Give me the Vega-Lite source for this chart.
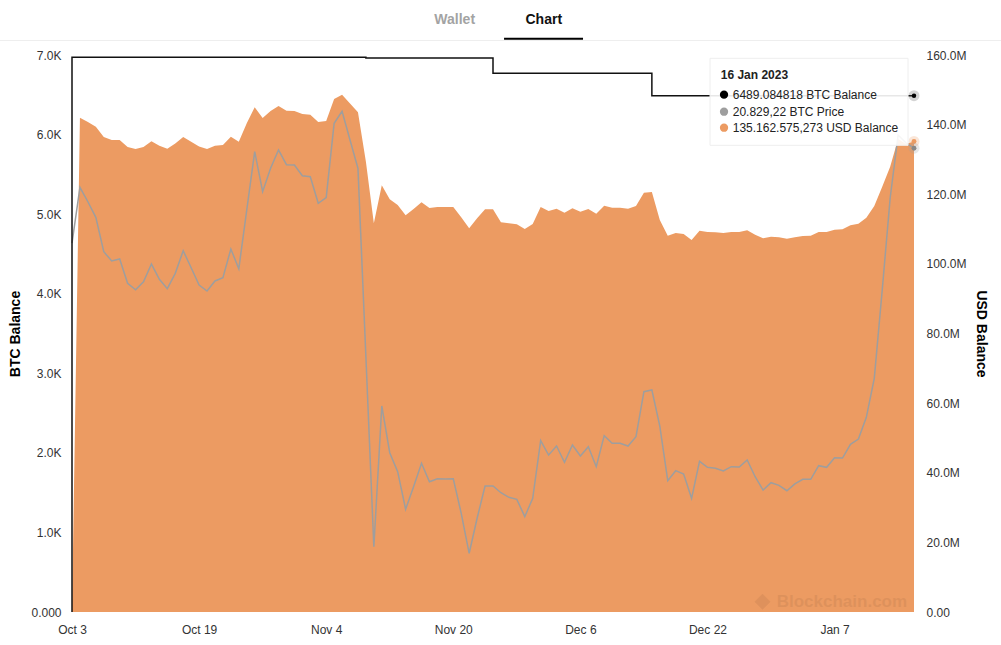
{
  "$schema": "https://vega.github.io/schema/vega-lite/v6.json",
  "width": 842,
  "height": 557,
  "autosize": "none",
  "padding": {"left": 72, "top": 55, "right": 87, "bottom": 33},
  "background": "white",
  "config": {
    "view": {"stroke": null},
    "font": "Liberation Sans",
    "axis": {"grid": false, "domain": false, "ticks": false, "labelFontSize": 12, "labelColor": "#333333", "labelFont": "Liberation Sans", "titleFont": "Liberation Sans", "titleFontSize": 14, "titleFontWeight": "bold", "titleColor": "black"}
  },
  "datasets": {
    "daily": [
      {"date":"2022-10-03","usd_balance":0,"btc_price":19637},
      {"date":"2022-10-04","usd_balance":142.0,"btc_price":20337},
      {"date":"2022-10-05","usd_balance":140.75,"btc_price":20156},
      {"date":"2022-10-06","usd_balance":139.4,"btc_price":19960},
      {"date":"2022-10-07","usd_balance":136.45,"btc_price":19528},
      {"date":"2022-10-08","usd_balance":135.6,"btc_price":19411},
      {"date":"2022-10-09","usd_balance":135.6,"btc_price":19436},
      {"date":"2022-10-10","usd_balance":133.6,"btc_price":19131},
      {"date":"2022-10-11","usd_balance":133.0,"btc_price":19050},
      {"date":"2022-10-12","usd_balance":133.6,"btc_price":19151},
      {"date":"2022-10-13","usd_balance":135.2,"btc_price":19373},
      {"date":"2022-10-14","usd_balance":133.95,"btc_price":19181},
      {"date":"2022-10-15","usd_balance":133.1,"btc_price":19063},
      {"date":"2022-10-16","usd_balance":134.6,"btc_price":19256},
      {"date":"2022-10-17","usd_balance":136.45,"btc_price":19540},
      {"date":"2022-10-18","usd_balance":135.1,"btc_price":19327},
      {"date":"2022-10-19","usd_balance":133.7,"btc_price":19109},
      {"date":"2022-10-20","usd_balance":133.0,"btc_price":19034},
      {"date":"2022-10-21","usd_balance":133.9,"btc_price":19160},
      {"date":"2022-10-22","usd_balance":134.15,"btc_price":19201},
      {"date":"2022-10-23","usd_balance":136.5,"btc_price":19562},
      {"date":"2022-10-24","usd_balance":135.1,"btc_price":19314},
      {"date":"2022-10-25","usd_balance":140.4,"btc_price":20052},
      {"date":"2022-10-26","usd_balance":145.0,"btc_price":20785},
      {"date":"2022-10-27","usd_balance":141.9,"btc_price":20282},
      {"date":"2022-10-28","usd_balance":143.9,"btc_price":20576},
      {"date":"2022-10-29","usd_balance":145.35,"btc_price":20806},
      {"date":"2022-10-30","usd_balance":144.0,"btc_price":20621},
      {"date":"2022-10-31","usd_balance":143.9,"btc_price":20617},
      {"date":"2022-11-01","usd_balance":143.05,"btc_price":20483},
      {"date":"2022-11-02","usd_balance":142.85,"btc_price":20470},
      {"date":"2022-11-03","usd_balance":140.75,"btc_price":20136},
      {"date":"2022-11-04","usd_balance":141.05,"btc_price":20207},
      {"date":"2022-11-05","usd_balance":147.35,"btc_price":21141},
      {"date":"2022-11-06","usd_balance":148.6,"btc_price":21292},
      {"date":"2022-11-07","usd_balance":146.1,"btc_price":20932},
      {"date":"2022-11-08","usd_balance":143.55,"btc_price":20576},
      {"date":"2022-11-09","usd_balance":129.35,"btc_price":18205},
      {"date":"2022-11-10","usd_balance":111.65,"btc_price":15821},
      {"date":"2022-11-11","usd_balance":122.55,"btc_price":17589},
      {"date":"2022-11-12","usd_balance":118.55,"btc_price":17002},
      {"date":"2022-11-13","usd_balance":116.9,"btc_price":16763},
      {"date":"2022-11-14","usd_balance":113.95,"btc_price":16291},
      {"date":"2022-11-15","usd_balance":115.75,"btc_price":16575},
      {"date":"2022-11-16","usd_balance":117.7,"btc_price":16869},
      {"date":"2022-11-17","usd_balance":116.05,"btc_price":16637},
      {"date":"2022-11-18","usd_balance":116.35,"btc_price":16675},
      {"date":"2022-11-19","usd_balance":116.35,"btc_price":16671},
      {"date":"2022-11-20","usd_balance":116.35,"btc_price":16675},
      {"date":"2022-11-21","usd_balance":113.4,"btc_price":16240},
      {"date":"2022-11-22","usd_balance":110.2,"btc_price":15738},
      {"date":"2022-11-23","usd_balance":113.1,"btc_price":16178},
      {"date":"2022-11-24","usd_balance":115.7,"btc_price":16583},
      {"date":"2022-11-25","usd_balance":115.7,"btc_price":16583},
      {"date":"2022-11-26","usd_balance":111.95,"btc_price":16499},
      {"date":"2022-11-27","usd_balance":111.65,"btc_price":16441},
      {"date":"2022-11-28","usd_balance":111.35,"btc_price":16416},
      {"date":"2022-11-29","usd_balance":110.0,"btc_price":16198},
      {"date":"2022-11-30","usd_balance":111.45,"btc_price":16429},
      {"date":"2022-12-01","usd_balance":116.35,"btc_price":17153},
      {"date":"2022-12-02","usd_balance":115.2,"btc_price":16973},
      {"date":"2022-12-03","usd_balance":115.85,"btc_price":17086},
      {"date":"2022-12-04","usd_balance":114.7,"btc_price":16881},
      {"date":"2022-12-05","usd_balance":115.95,"btc_price":17099},
      {"date":"2022-12-06","usd_balance":115.0,"btc_price":16960},
      {"date":"2022-12-07","usd_balance":115.75,"btc_price":17077},
      {"date":"2022-12-08","usd_balance":114.4,"btc_price":16826},
      {"date":"2022-12-09","usd_balance":116.7,"btc_price":17216},
      {"date":"2022-12-10","usd_balance":116.15,"btc_price":17120},
      {"date":"2022-12-11","usd_balance":116.1,"btc_price":17120},
      {"date":"2022-12-12","usd_balance":115.85,"btc_price":17086},
      {"date":"2022-12-13","usd_balance":116.6,"btc_price":17203},
      {"date":"2022-12-14","usd_balance":120.45,"btc_price":17769},
      {"date":"2022-12-15","usd_balance":120.65,"btc_price":17790},
      {"date":"2022-12-16","usd_balance":112.6,"btc_price":17337},
      {"date":"2022-12-17","usd_balance":108.1,"btc_price":16650},
      {"date":"2022-12-18","usd_balance":108.85,"btc_price":16776},
      {"date":"2022-12-19","usd_balance":108.6,"btc_price":16734},
      {"date":"2022-12-20","usd_balance":106.85,"btc_price":16429},
      {"date":"2022-12-21","usd_balance":109.55,"btc_price":16894},
      {"date":"2022-12-22","usd_balance":109.15,"btc_price":16818},
      {"date":"2022-12-23","usd_balance":109.05,"btc_price":16806},
      {"date":"2022-12-24","usd_balance":108.85,"btc_price":16772},
      {"date":"2022-12-25","usd_balance":109.15,"btc_price":16826},
      {"date":"2022-12-26","usd_balance":109.15,"btc_price":16822},
      {"date":"2022-12-27","usd_balance":109.65,"btc_price":16910},
      {"date":"2022-12-28","usd_balance":108.4,"btc_price":16700},
      {"date":"2022-12-29","usd_balance":107.35,"btc_price":16533},
      {"date":"2022-12-30","usd_balance":107.8,"btc_price":16625},
      {"date":"2022-12-31","usd_balance":107.65,"btc_price":16592},
      {"date":"2023-01-01","usd_balance":107.25,"btc_price":16524},
      {"date":"2023-01-02","usd_balance":107.65,"btc_price":16609},
      {"date":"2023-01-03","usd_balance":108.0,"btc_price":16668},
      {"date":"2023-01-04","usd_balance":108.1,"btc_price":16668},
      {"date":"2023-01-05","usd_balance":109.15,"btc_price":16839},
      {"date":"2023-01-06","usd_balance":109.15,"btc_price":16818},
      {"date":"2023-01-07","usd_balance":109.8,"btc_price":16939},
      {"date":"2023-01-08","usd_balance":109.95,"btc_price":16935},
      {"date":"2023-01-09","usd_balance":111.1,"btc_price":17107},
      {"date":"2023-01-10","usd_balance":111.55,"btc_price":17174},
      {"date":"2023-01-11","usd_balance":113.25,"btc_price":17447},
      {"date":"2023-01-12","usd_balance":116.6,"btc_price":17937},
      {"date":"2023-01-13","usd_balance":122.15,"btc_price":19047},
      {"date":"2023-01-14","usd_balance":127.9,"btc_price":20203},
      {"date":"2023-01-15","usd_balance":135.9,"btc_price":20994},
      {"date":"2023-01-16","usd_balance":134.45,"btc_price":20894},
      {"date":"2023-01-17","usd_balance":135.16,"btc_price":20829}
    ],
    "last_day": [
      {"date":"2023-01-17","usd_balance":135.16,"btc_price":20829,"btc":6489.08}
    ],
    "btc_balance": [
      {"date":"2022-10-03","btc":0},
      {"date":"2022-10-03","btc":6971},
      {"date":"2022-11-09","btc":6963},
      {"date":"2022-11-25","btc":6772},
      {"date":"2022-12-15","btc":6489.08},
      {"date":"2023-01-17","btc":6489.08}
    ],
    "tooltip_box": [
      {"date":"2022-12-22T07:41:00Z","date_end":"2023-01-16T06:00:00Z","btc":6958,"btc_end":5865}
    ],
    "tooltip_title": [
      {"date":"2022-12-23T16:05:00Z","btc":6745,"label":"16 Jan 2023"}
    ],
    "tooltip_rows": [
      {"date":"2022-12-25T04:19:00Z","btc":6501,"label":"6489.084818 BTC Balance","series":"BTC Balance"},
      {"date":"2022-12-25T04:19:00Z","btc":6287,"label":"20.829,22 BTC Price","series":"BTC Price"},
      {"date":"2022-12-25T04:19:00Z","btc":6086,"label":"135.162.575,273 USD Balance","series":"USD Balance"}
    ],
    "tabs": [
      {"date":"2022-11-20T04:19:00Z","btc":7440,"label":"Wallet"},
      {"date":"2022-12-01T09:22:00Z","btc":7440,"label":"Chart"}
    ],
    "tab_divider": [
      {"date":"2022-09-23T22:34:00Z","date_end":"2023-01-27T23:00:00Z","btc":7182}
    ],
    "tab_underline": [
      {"date":"2022-11-26T09:22:00Z","date_end":"2022-12-06T08:00:00Z","btc":7205}
    ],
    "watermark": [
      {"date":"2022-12-30T17:17:00Z","btc":129,"label":"Blockchain.com"}
    ],
    "watermark_icon": [
      {"date":"2022-12-28T22:19:00Z","btc":129}
    ]
  },
  "encoding": {
    "x": {
      "field": "date",
      "type": "temporal",
      "scale": {
        "type": "utc",
        "domain": [
          {"year": 2022, "month": 10, "date": 3, "utc": true},
          {"year": 2023, "month": 1, "date": 17, "utc": true}
        ]
      },
      "axis": {
        "title": null,
        "format": "%b %-d",
        "labelPadding": 12,
        "labelFlush": false,
        "labelOverlap": false,
        "values": [
          {"year": 2022, "month": 10, "date": 3, "utc": true},
          {"year": 2022, "month": 10, "date": 19, "utc": true},
          {"year": 2022, "month": 11, "date": 4, "utc": true},
          {"year": 2022, "month": 11, "date": 20, "utc": true},
          {"year": 2022, "month": 12, "date": 6, "utc": true},
          {"year": 2022, "month": 12, "date": 22, "utc": true},
          {"year": 2023, "month": 1, "date": 7, "utc": true}
        ]
      }
    }
  },
  "layer": [
    {
      "encoding": {
        "y": {
          "field": "usd_balance",
          "type": "quantitative",
          "scale": {"domain": [0, 160], "nice": false},
          "axis": {
            "orient": "right",
            "title": "USD Balance",
            "titlePadding": 7,
            "labelPadding": 12,
            "values": [0, 20, 40, 60, 80, 100, 120, 140, 160],
            "labelExpr": "datum.value == 0 ? '0.00' : format(datum.value, '.1f') + 'M'"
          }
        }
      },
      "layer": [
        {"data": {"name": "daily"}, "mark": {"type": "area", "color": "#EC9B62", "opacity": 1}},
        {"data": {"name": "last_day"}, "mark": {"type": "point", "filled": true, "color": "#EC9B62", "opacity": 0.25, "size": 120}},
        {"data": {"name": "last_day"}, "mark": {"type": "point", "filled": true, "color": "#EC9B62", "opacity": 1, "size": 24}}
      ]
    },
    {
      "encoding": {
        "y": {
          "field": "btc_price",
          "type": "quantitative",
          "scale": {"domain": [15000, 22000], "nice": false, "zero": false},
          "axis": null
        }
      },
      "layer": [
        {"data": {"name": "daily"}, "mark": {"type": "line", "color": "#9E9E9E", "strokeWidth": 1.5}},
        {"data": {"name": "last_day"}, "mark": {"type": "point", "filled": true, "color": "#9E9E9E", "opacity": 0.25, "size": 120}},
        {"data": {"name": "last_day"}, "mark": {"type": "point", "filled": true, "color": "#888888", "opacity": 1, "size": 24}}
      ]
    },
    {
      "encoding": {
        "y": {
          "field": "btc",
          "type": "quantitative",
          "scale": {"domain": [0, 7000], "nice": false},
          "axis": {
            "orient": "left",
            "title": "BTC Balance",
            "titlePadding": 8,
            "labelPadding": 11,
            "values": [0, 1000, 2000, 3000, 4000, 5000, 6000, 7000],
            "labelExpr": "datum.value == 0 ? '0.000' : format(datum.value / 1000, '.1f') + 'K'"
          }
        }
      },
      "layer": [
        {"data": {"name": "btc_balance"}, "mark": {"type": "line", "color": "#111111", "strokeWidth": 1.5, "interpolate": "step-after"}},
        {"data": {"name": "last_day"}, "mark": {"type": "point", "filled": true, "color": "#555555", "opacity": 0.25, "size": 120}},
        {"data": {"name": "last_day"}, "mark": {"type": "point", "filled": true, "color": "black", "opacity": 1, "size": 20}},
        {
          "data": {"name": "tooltip_box"},
          "mark": {"type": "rect", "fill": "white", "fillOpacity": 0.9, "stroke": "#EEEEEE", "strokeWidth": 1},
          "encoding": {"x2": {"field": "date_end"}, "y2": {"field": "btc_end"}}
        },
        {
          "data": {"name": "tooltip_title"},
          "mark": {"type": "text", "align": "left", "baseline": "middle", "fontSize": 12, "fontWeight": "bold", "color": "#222222"},
          "encoding": {"text": {"field": "label"}}
        },
        {
          "data": {"name": "tooltip_rows"},
          "mark": {"type": "point", "filled": true, "opacity": 1, "size": 68, "xOffset": -8.7},
          "encoding": {
            "color": {
              "field": "series",
              "type": "nominal",
              "legend": null,
              "scale": {"domain": ["BTC Balance", "BTC Price", "USD Balance"], "range": ["#000000", "#9E9E9E", "#EC9B62"]}
            }
          }
        },
        {
          "data": {"name": "tooltip_rows"},
          "mark": {"type": "text", "align": "left", "baseline": "middle", "fontSize": 12, "color": "#222222"},
          "encoding": {"text": {"field": "label"}}
        },
        {
          "data": {"name": "tabs"},
          "mark": {"type": "text", "align": "center", "baseline": "middle", "fontSize": 14, "fontWeight": "bold"},
          "encoding": {
            "text": {"field": "label"},
            "color": {"condition": {"test": "datum.label == 'Chart'", "value": "#111111"}, "value": "#A3A3A3"}
          }
        },
        {
          "data": {"name": "tab_divider"},
          "mark": {"type": "rule", "color": "#EEEEEE", "strokeWidth": 1},
          "encoding": {"x2": {"field": "date_end"}}
        },
        {
          "data": {"name": "tab_underline"},
          "mark": {"type": "rule", "color": "black", "strokeWidth": 2},
          "encoding": {"x2": {"field": "date_end"}}
        },
        {
          "data": {"name": "watermark"},
          "mark": {"type": "text", "align": "left", "baseline": "middle", "fontSize": 17, "fontWeight": "bold", "color": "black", "opacity": 0.06},
          "encoding": {"text": {"field": "label"}}
        },
        {
          "data": {"name": "watermark_icon"},
          "mark": {"type": "point", "shape": "diamond", "filled": true, "color": "black", "opacity": 0.06, "size": 260}
        }
      ]
    }
  ],
  "resolve": {"scale": {"y": "independent", "color": "independent"}, "axis": {"y": "independent"}}
}
